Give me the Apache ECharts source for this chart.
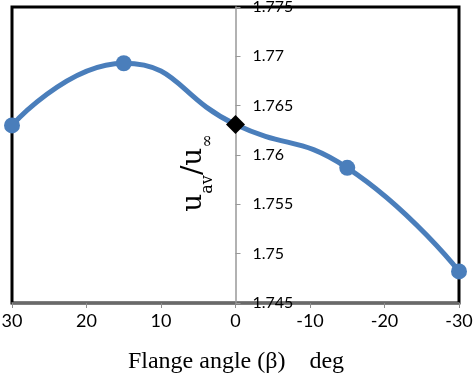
<!DOCTYPE html>
<html>
<head>
<meta charset="utf-8">
<script src="https://cdn.jsdelivr.net/npm/echarts@6/dist/echarts.min.js"></script>
<style>html,body{margin:0;padding:0;background:#fff}#c{width:474px;height:379px}</style>
</head>
<body>
<div id="c"></div>
<script>
var flangeAngles = [30, 15, 0, -15, -30];
var velocityRatio = [1.7630, 1.7693, 1.7631, 1.7587, 1.7482];
var xTicks = {min: -30, max: 30, interval: 10};
var yTicks = {min: 1.745, max: 1.775, interval: 0.005};
var xTitle = 'Flange angle (\u03b2)    deg';

var blue = '#4a7ebb';
var seriesData = flangeAngles.map(function (a, i) {
  var d = {value: [a, velocityRatio[i]]};
  if (a === 0) {
    d.symbol = 'diamond';
    d.symbolSize = 19;
    d.itemStyle = {color: '#000'};
  }
  return d;
});

var gridLeft = 12, gridRight = 15, W = 474;
var yAxisShift = -((W - gridLeft - gridRight) / 2);

var chart = echarts.init(document.getElementById('c'), null, {renderer: 'canvas'});
chart.setOption({
  animation: false,
  backgroundColor: '#fff',
  grid: {left: gridLeft, right: gridRight, top: 7, bottom: 76, show: true, borderColor: '#000', borderWidth: 3,
         backgroundColor: 'transparent', containLabel: false, outerBoundsMode: 'none'},
  xAxis: {
    type: 'value', inverse: true,
    min: xTicks.min, max: xTicks.max, interval: xTicks.interval,
    axisLine: {show: true, onZero: false, lineStyle: {color: '#8c8c8c', width: 1.5}},
    axisTick: {show: true, length: 5, lineStyle: {color: '#8c8c8c', width: 1}},
    axisLabel: {margin: 9, fontSize: 18, fontFamily: 'Lato', color: '#000'},
    splitLine: {show: false}
  },
  yAxis: {
    type: 'value', position: 'right', offset: yAxisShift,
    min: yTicks.min, max: yTicks.max, interval: yTicks.interval,
    axisLine: {show: true, onZero: false, lineStyle: {color: '#999', width: 1.5}},
    axisTick: {show: true, length: 5, lineStyle: {color: '#999', width: 1}},
    axisLabel: {margin: 17, fontSize: 16, fontFamily: 'Lato', color: '#000',
      formatter: function (v) { return String(+v.toFixed(3)); }},
    splitLine: {show: false}
  },
  graphic: [
    {type: 'text', x: 236, y: 362, z: 10,
     style: {text: xTitle, font: '24px "Liberation Serif"', fill: '#000', align: 'center', verticalAlign: 'middle'}},
    {type: 'text', x: 195, y: 173, rotation: Math.PI / 2, z: 10,
     style: {
       text: '{m|u}{s|av}{m|/u}{s|\u221e}',
       align: 'center', verticalAlign: 'middle', fill: '#000',
       rich: {
         m: {fontFamily: 'DejaVu Serif', fontSize: 28, lineHeight: 30, verticalAlign: 'top', fill: '#000'},
         s: {fontFamily: 'DejaVu Serif', fontSize: 16, lineHeight: 14, padding: [20, 0, 0, 0], verticalAlign: 'top', fill: '#000'}
       }
     }}
  ],
  series: [{
    type: 'line', data: seriesData, smooth: true, clip: false,
    symbol: 'circle', symbolSize: 16,
    lineStyle: {color: blue, width: 5},
    itemStyle: {color: blue}
  }]
});
</script>
</body>
</html>
